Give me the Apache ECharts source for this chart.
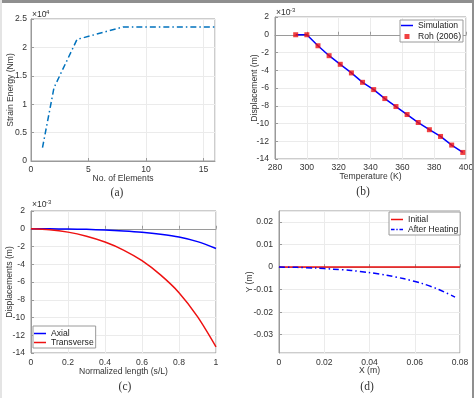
<!DOCTYPE html>
<html>
<head>
<meta charset="utf-8">
<script src="https://cdn.jsdelivr.net/npm/echarts@6/dist/echarts.min.js"></script>
<style>
  html, body { margin: 0; padding: 0; background: #fff; }
  #main { width: 474px; height: 398px; }
</style>
</head>
<body>
<div id="main"></div>
<script>
// (a) strain energy convergence, values in x10^4 Nm
var elements = [1, 2, 4, 8, 16]
var strainEnergy = [0.235, 1.29, 2.14, 2.36, 2.36]

// (b) tip displacement vs temperature, values in x10^-3 m
var temperature = [293, 300, 307, 314, 321, 328, 335, 342, 349, 356, 363, 370, 377, 384, 391, 398]
var simDisp = [0, 0, -1.24, -2.36, -3.33, -4.3, -5.36, -6.18, -7.19, -8.09, -8.99, -9.89, -10.7, -11.46, -12.43, -13.26]
var rohDisp = [0, 0, -1.24, -2.36, -3.33, -4.3, -5.36, -6.18, -7.19, -8.09, -8.99, -9.89, -10.7, -11.46, -12.43, -13.26]

// (c) displacements along the beam, values in x10^-3 m
var sNorm = [0, 0.1, 0.2, 0.3, 0.4, 0.5, 0.6, 0.7, 0.8, 0.9, 1]
var axialDisp = [0, -0.01, -0.03, -0.07, -0.14, -0.25, -0.4, -0.62, -0.93, -1.45, -2.22]
var transDisp = [0, -0.1, -0.38, -0.85, -1.5, -2.4, -3.6, -5.2, -7.2, -9.9, -13.3]

// (d) beam shape (m)
var initX = [0, 0.08]
var initY = [0, 0]
var heatX = [0, 0.008, 0.016, 0.024, 0.0319, 0.0397, 0.0476, 0.0554, 0.0631, 0.0706, 0.0778]
var heatY = [0, -0.0001, -0.0004, -0.0009, -0.0015, -0.0024, -0.0036, -0.0052, -0.0072, -0.0099, -0.0133]

var FONT = 'Liberation Sans'
var TXT = '#333'
var BOX = '#9a9a9a'
var BLUE = '#0000ff'
var RED = '#ee1111'
var DASHDOT = [6, 3, 1.5, 3]

var LINE_ICON = 'path://M0,0H12V1.5H0Z'
var DD_ICON = 'path://M0,0H4V1.5H0Z M6,0H7.5V1.5H6Z M9.5,0H13.5V1.5H9.5Z'
var SQ_ICON = 'path://M0,0H1V1H0Z'

function zip(xs, ys) {
  var out = []
  for (var i = 0; i < xs.length; i++) out.push([xs[i], ys[i]])
  return out
}

function axis(gi, o) {
  var a = {
    type: 'value',
    gridIndex: gi,
    nameLocation: 'middle',
    nameMoveOverlap: false,
    nameTextStyle: { fontFamily: FONT, fontSize: 8.6, color: TXT },
    axisLine: { show: true, lineStyle: { color: BOX, width: 1 } },
    axisTick: { show: true, inside: true, length: 3, lineStyle: { color: BOX } },
    axisLabel: { fontFamily: FONT, fontSize: 8.6, color: TXT, margin: 5 },
    splitLine: { show: true, lineStyle: { color: '#ebebeb', width: 1 } }
  }
  for (var k in o) {
    if (k === 'axisLabel') {
      for (var j in o[k]) a.axisLabel[j] = o[k][j]
    } else {
      a[k] = o[k]
    }
  }
  return a
}

function legendBox(o) {
  var l = {
    orient: 'vertical',
    align: 'left',
    backgroundColor: '#fff',
    borderColor: BOX,
    borderWidth: 1,
    borderRadius: 0,
    itemWidth: 12,
    itemHeight: 5,
    itemGap: 1,
    symbolKeepAspect: true,
    selectedMode: false,
    textStyle: { fontFamily: FONT, fontSize: 8.6, color: '#222' }
  }
  for (var k in o) l[k] = o[k]
  return l
}

function txt(x, y, s, size, family, align) {
  return {
    type: 'text', x: x, y: y,
    style: { text: s, fontFamily: family || FONT, fontSize: size, fill: TXT, align: align || 'left', verticalAlign: 'middle' }
  }
}

var myChart = echarts.init(document.getElementById('main'))
var option = {
  animation: false,
  backgroundColor: '#fff',
  grid: [
    { left: 31, top: 19, width: 184, height: 142 },
    { left: 275, top: 17, width: 191, height: 142 },
    { left: 31, top: 211, width: 185, height: 142 },
    { left: 279, top: 211, width: 181, height: 142 }
  ].map(function (g) {
    g.show = true
    g.borderColor = BOX
    g.borderWidth = 1
    g.backgroundColor = '#fff'
    g.outerBoundsMode = 'none'
    g.containLabel = false
    return g
  }),
  xAxis: [
    axis(0, { min: 0, max: 16, interval: 5, name: 'No. of Elements', nameGap: 13, axisLabel: { margin: 4, showMaxLabel: false } }),
    axis(1, { min: 280, max: 400, interval: 20, name: 'Temperature (K)', nameGap: 13, axisLabel: { margin: 4 } }),
    axis(2, { min: 0, max: 1, interval: 0.2, name: 'Normalized length (s/L)', nameGap: 14, axisLabel: { margin: 5 } }),
    axis(3, { min: 0, max: 0.08, interval: 0.02, name: 'X (m)', nameGap: 13, axisLabel: { margin: 5 } })
  ],
  yAxis: [
    axis(0, { min: 0, max: 2.5, interval: 0.5, name: 'Strain Energy (Nm)', nameGap: 16, axisLabel: { margin: 4 } }),
    axis(1, { min: -14, max: 2, interval: 2, name: 'Displacement (m)', nameGap: 16, axisLabel: { margin: 6 } }),
    axis(2, { min: -14, max: 2, interval: 2, name: 'Displacements (m)', nameGap: 17, axisLabel: { margin: 6 } }),
    axis(3, { min: -0.0381, max: 0.0249, splitNumber: 6, name: 'Y (m)', nameGap: 25,
      axisLabel: { margin: 6, showMinLabel: false, showMaxLabel: false } })
  ],
  legend: [
    legendBox({ left: 400, top: 20, padding: [1, 2, 1, 1], itemGap: 2,
      data: [{ name: 'Simulation', icon: LINE_ICON }, { name: 'Roh (2006)', icon: SQ_ICON }] }),
    legendBox({ left: 33, top: 326, padding: [3, 2, 1, 1], itemGap: 0,
      data: [{ name: 'Axial', icon: LINE_ICON }, { name: 'Transverse', icon: LINE_ICON }] }),
    legendBox({ left: 389, top: 212, padding: [3, 2, 1, 2], itemGap: 1,
      data: [{ name: 'Initial', icon: LINE_ICON }, { name: 'After Heating', icon: DD_ICON }] })
  ],
  series: [
    { name: 'Strain Energy', type: 'line', xAxisIndex: 0, yAxisIndex: 0, data: zip(elements, strainEnergy),
      symbol: 'none', color: '#0072bd', lineStyle: { color: '#0072bd', width: 1.5, type: DASHDOT } },
    { name: 'Simulation', type: 'line', xAxisIndex: 1, yAxisIndex: 1, data: zip(temperature, simDisp),
      symbol: 'none', color: BLUE, itemStyle: { color: BLUE }, lineStyle: { color: BLUE, width: 1.5 } },
    { name: 'Roh (2006)', type: 'scatter', xAxisIndex: 1, yAxisIndex: 1, data: zip(temperature, rohDisp),
      symbol: 'rect', symbolSize: 5, color: RED, itemStyle: { color: RED }, z: 3 },
    { name: 'Axial', type: 'line', xAxisIndex: 2, yAxisIndex: 2, data: zip(sNorm, axialDisp), smooth: 0.3,
      symbol: 'none', color: BLUE, itemStyle: { color: BLUE }, lineStyle: { color: BLUE, width: 1.5 } },
    { name: 'Transverse', type: 'line', xAxisIndex: 2, yAxisIndex: 2, data: zip(sNorm, transDisp), smooth: 0.3,
      symbol: 'none', color: RED, itemStyle: { color: RED }, lineStyle: { color: RED, width: 1.5 } },
    { name: 'Initial', type: 'line', xAxisIndex: 3, yAxisIndex: 3, data: zip(initX, initY),
      symbol: 'none', color: RED, itemStyle: { color: RED }, lineStyle: { color: RED, width: 1.5 } },
    { name: 'After Heating', type: 'line', xAxisIndex: 3, yAxisIndex: 3, data: zip(heatX, heatY), smooth: 0.3,
      symbol: 'none', color: BLUE, itemStyle: { color: BLUE }, lineStyle: { color: BLUE, width: 1.5, type: DASHDOT } }
  ],
  graphic: [
    { type: 'rect', shape: { x: 0, y: 0, width: 474, height: 3 }, style: { fill: '#8f8f8f' }, z: 100 },
    { type: 'rect', shape: { x: 472, y: 0, width: 2, height: 398 }, style: { fill: '#8f8f8f' }, z: 100 },
    { type: 'rect', shape: { x: 0, y: 0, width: 2, height: 398 }, style: { fill: '#e4e4e4' }, z: 100 },
    // exponent labels
    txt(32, 15, '\u00d710', 8.6), txt(46, 12, '4', 6),
    txt(276, 13, '\u00d710', 8.6), txt(290, 10, '-3', 6),
    txt(32, 205, '\u00d710', 8.6), txt(46, 202, '-3', 6),
    // captions
    txt(117, 193, '(a)', 11.5, 'Liberation Serif', 'center'),
    txt(363, 192, '(b)', 11.5, 'Liberation Serif', 'center'),
    txt(125, 387, '(c)', 11.5, 'Liberation Serif', 'center'),
    txt(367, 387, '(d)', 11.5, 'Liberation Serif', 'center')
  ]
}
myChart.setOption(option)
</script>
</body>
</html>
